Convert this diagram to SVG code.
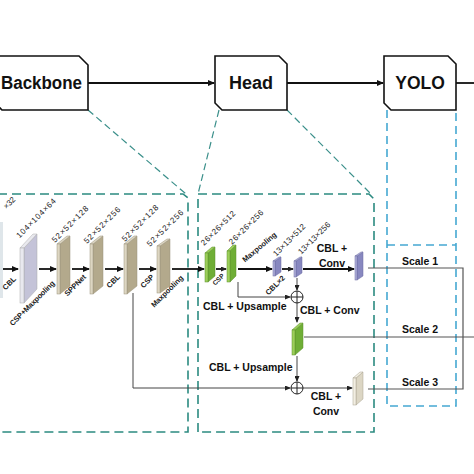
<svg xmlns="http://www.w3.org/2000/svg" width="474" height="474" viewBox="0 0 474 474">
<defs>
<marker id="ah" markerWidth="7" markerHeight="6" refX="6" refY="3" orient="auto" markerUnits="userSpaceOnUse">
<path d="M0,0 L7,3 L0,6 Z" fill="#111"/>
</marker>
<marker id="ahs" markerWidth="6" markerHeight="5" refX="5" refY="2.5" orient="auto" markerUnits="userSpaceOnUse">
<path d="M0,0 L6,2.5 L0,5 Z" fill="#222"/>
</marker>
<style>
.box{fill:#fff;stroke:#111;stroke-width:1.6}
.title{font-family:"Liberation Sans",Arial,sans-serif;font-weight:bold;font-size:18px;fill:#111;text-anchor:middle}
.lbl{font-family:"Liberation Sans",Arial,sans-serif;font-weight:bold;font-size:10.5px;fill:#111}
.sm{font-family:"Liberation Sans",Arial,sans-serif;font-size:8px;fill:#222;text-anchor:middle}
.smb{font-family:"Liberation Sans",Arial,sans-serif;font-size:7.5px;font-weight:bold;fill:#222;text-anchor:middle}
.main{stroke:#111;stroke-width:1.8;fill:none}
.thin{stroke:#444;stroke-width:1;fill:none}
.scl{stroke:#555;stroke-width:1.2;fill:none}
.teal{stroke:#2b8a80;stroke-width:1.6;fill:none;stroke-dasharray:9 5}
.tealdiag{stroke:#3a8f8a;stroke-width:1.2;fill:none;stroke-dasharray:7 4}
.blue{stroke:#45a8d2;stroke-width:1.6;fill:none;stroke-dasharray:8 5}
.g1{fill:#e9e9ef;stroke:#aaa;stroke-width:0.5}
.g2{fill:#c4c3d8;stroke:#aaa;stroke-width:0.5}
.t1{fill:#ddd6c2;stroke:#9a927c;stroke-width:0.5}
.t2{fill:#b3a98c;stroke:#9a927c;stroke-width:0.5}
.gr1{fill:#9ccf5a;stroke:#5c8f2e;stroke-width:0.5}
.gr2{fill:#6fae36;stroke:#5c8f2e;stroke-width:0.5}
.p1{fill:#b3b3dc;stroke:#6a6aa0;stroke-width:0.5}
.p2{fill:#8888c0;stroke:#6a6aa0;stroke-width:0.5}
.b1{fill:#f2eee2;stroke:#a8a290;stroke-width:0.5}
.b2{fill:#dcd6c4;stroke:#a8a290;stroke-width:0.5}
</style>
</defs>
<rect width="474" height="474" fill="#fff"/>

<!-- dashed regions -->
<g id="regions">
<path class="teal" d="M-2,194 H183 L188,198 V432 H-2"/>
<path class="teal" d="M198,432 V194 H369 L374,199 V432 Z"/>
<path class="tealdiag" d="M88,110 L186,194"/>
<path class="tealdiag" d="M219,110 L198,194"/>
<path class="tealdiag" d="M287,110 L371,194"/>
<path class="blue" d="M387,110 V406 H456 V110"/>
<path class="blue" d="M387,245 H456"/>
</g>

<!-- top nodes -->
<g id="backbone">
<path class="box" d="M-6,56 H79 L88,65 V110 H2 L-6,102 Z"/>
<text class="title" x="1" y="89" style="text-anchor:start;font-size:17.5px" textLength="81" lengthAdjust="spacingAndGlyphs">Backbone</text>
</g>
<g id="head">
<path class="box" d="M215,56 H279 L287,64 V110 H222 L215,103 Z"/>
<text class="title" x="251" y="89">Head</text>
</g>
<g id="yolo">
<path class="box" d="M384,56 H448 L456,64 V110 H391 L384,103 Z"/>
<text class="title" x="420" y="89" style="font-size:17.5px">YOLO</text>
</g>

<!-- connectors -->
<g id="connectors">
<path class="main" d="M88,83 H214" marker-end="url(#ah)"/>
<path class="main" d="M287,83 H383" marker-end="url(#ah)"/>
<path class="main" d="M456,83 H474"/>

<path class="main" d="M0,269 H18" marker-end="url(#ah)"/>
<path class="main" d="M39,269 H56" marker-end="url(#ah)"/>
<path class="main" d="M72,269 H89" marker-end="url(#ah)"/>
<path class="main" d="M105,269 H123" marker-end="url(#ah)"/>
<path class="main" d="M139,269 H156" marker-end="url(#ah)"/>
<path class="main" d="M172,269 H204" marker-end="url(#ah)"/>
<path class="main" d="M216,269 H226" marker-end="url(#ahs)"/>
<path class="main" d="M238,269 H272" marker-end="url(#ah)"/>
<path class="main" d="M282,269 H293" marker-end="url(#ahs)"/>
<path class="main" d="M303,269 H354" marker-end="url(#ah)"/>

<path class="thin" d="M297,278 V290" marker-end="url(#ahs)"/>
<path class="thin" d="M238,282 V297 H290" marker-end="url(#ahs)"/>
<path class="thin" d="M297,303 V322" marker-end="url(#ahs)"/>
<path class="thin" d="M297,356 V381" marker-end="url(#ahs)"/>
<path class="thin" d="M133,293 V388 H290" marker-end="url(#ahs)"/>
<path class="thin" d="M303,388 H352" marker-end="url(#ahs)"/>

<path class="scl" d="M368,268 H463 V389 H368"/>
<path class="scl" d="M304,337 H474"/>

<circle cx="297" cy="297" r="6" fill="#fff" stroke="#222" stroke-width="1"/>
<path d="M291,297 H303 M297,291 V303" stroke="#222" stroke-width="1"/>
<circle cx="297" cy="388" r="6" fill="#fff" stroke="#222" stroke-width="1"/>
<path d="M291,388 H303 M297,382 V394" stroke="#222" stroke-width="1"/>
</g>

<!-- feature blocks -->
<g id="blk0"><rect x="0" y="222" width="3" height="76" fill="#dfe6ea"/></g>
<g id="blk1">
<polygon class="g2" points="24,248 37,234 37,289 24,303"/>
<polygon class="g1" points="20,248 33,234 37,234 24,248"/>
<rect class="g1" x="20" y="248" width="4" height="55"/>
</g>
<g id="blk2">
<polygon class="t2" points="60,244 70,236 70,286 60,294"/>
<polygon class="t1" points="57,244 67,236 70,236 60,244"/>
<rect class="t1" x="57" y="244" width="3" height="50"/>
</g>
<g id="blk3">
<polygon class="t2" points="93,244 103,236 103,286 93,294"/>
<polygon class="t1" points="90,244 100,236 103,236 93,244"/>
<rect class="t1" x="90" y="244" width="3" height="50"/>
</g>
<g id="blk4">
<polygon class="t2" points="127,244 137,236 137,286 127,294"/>
<polygon class="t1" points="124,244 134,236 137,236 127,244"/>
<rect class="t1" x="124" y="244" width="3" height="50"/>
</g>
<g id="blk5">
<polygon class="t2" points="160,246 170,239 170,286 160,293"/>
<polygon class="t1" points="157,246 167,239 170,239 160,246"/>
<rect class="t1" x="157" y="246" width="3" height="47"/>
</g>
<g id="green1">
<polygon class="gr2" points="208,253 215,247 215,276 208,282"/>
<polygon class="gr1" points="205,253 212,247 215,247 208,253"/>
<rect class="gr1" x="205" y="253" width="3" height="29"/>
</g>
<g id="green2">
<polygon class="gr2" points="230,251 236,245 236,276 230,282"/>
<polygon class="gr1" points="227,251 233,245 236,245 230,251"/>
<rect class="gr1" x="227" y="251" width="3" height="31"/>
</g>
<g id="purple1">
<polygon class="p2" points="275,261 281,257 281,272 275,276"/>
<polygon class="p1" points="273,261 279,257 281,257 275,261"/>
<rect class="p1" x="273" y="261" width="2" height="15"/>
</g>
<g id="purple2">
<polygon class="p2" points="296,261 302,257 302,273 296,277"/>
<polygon class="p1" points="294,261 300,257 302,257 296,261"/>
<rect class="p1" x="294" y="261" width="2" height="16"/>
</g>
<g id="purple3">
<polygon class="p2" points="357,256 363,252 363,276 357,280"/>
<polygon class="p1" points="355,256 361,252 363,252 357,256"/>
<rect class="p1" x="355" y="256" width="2" height="24"/>
</g>
<g id="green3">
<polygon class="gr2" points="295,330 303,323 303,348 295,355"/>
<polygon class="gr1" points="292,330 300,323 303,323 295,330"/>
<rect class="gr1" x="292" y="330" width="3" height="25"/>
</g>
<g id="beige4">
<polygon class="b2" points="356,378 363,372 363,399 356,405"/>
<polygon class="b1" points="353,378 360,372 363,372 356,378"/>
<rect class="b1" x="353" y="378" width="3" height="27"/>
</g>

<!-- small rotated labels -->
<g id="dimlabels">
<text class="sm" style="text-anchor:end" transform="translate(16,200) rotate(-45)">×32</text>
<text class="sm" transform="translate(38,220) rotate(-45)" textLength="52">104×104×64</text>
<text class="sm" transform="translate(72,226) rotate(-45)" textLength="48">52×52×128</text>
<text class="sm" transform="translate(104,227) rotate(-45)" textLength="48">52×52×256</text>
<text class="sm" transform="translate(142,225) rotate(-45)" textLength="48">52×52×128</text>
<text class="sm" transform="translate(167,230) rotate(-45)" textLength="48">52×52×256</text>
<text class="sm" transform="translate(220,230) rotate(-45)" textLength="45">26×26×512</text>
<text class="sm" transform="translate(248,229) rotate(-45)" textLength="45">26×26×256</text>
<text class="sm" transform="translate(291,242) rotate(-45)" textLength="42">13×13×512</text>
<text class="sm" transform="translate(316,240) rotate(-45)" textLength="42">13×13×256</text>

<text class="smb" transform="translate(11,285) rotate(-45)">CBL</text>
<text class="smb" transform="translate(34,305) rotate(-45)" textLength="60">CSP+Maxpooling</text>
<text class="smb" transform="translate(77,287) rotate(-45)">SPPNet</text>
<text class="smb" transform="translate(115,283) rotate(-45)">CBL</text>
<text class="smb" transform="translate(149,283) rotate(-45)">CSP</text>
<text class="smb" transform="translate(169,293) rotate(-45)" textLength="42">Maxpooling</text>
<text class="smb" transform="translate(220,281) rotate(-45)" style="font-size:6.5px">CSP</text>
<text class="smb" transform="translate(261,249) rotate(-40)" textLength="42">Maxpooling</text>
<text class="smb" transform="translate(277,287) rotate(-45)">CBL×2</text>
</g>

<!-- bold labels -->
<g id="oplabels">
<text class="lbl" x="332" y="252" text-anchor="middle">CBL +</text>
<text class="lbl" x="332" y="267" text-anchor="middle">Conv</text>
<text class="lbl" x="203" y="310">CBL + Upsample</text>
<text class="lbl" x="300" y="314">CBL + Conv</text>
<text class="lbl" x="209" y="371">CBL + Upsample</text>
<text class="lbl" x="326" y="400" text-anchor="middle">CBL +</text>
<text class="lbl" x="326" y="415" text-anchor="middle">Conv</text>
<text class="lbl" x="420" y="265" text-anchor="middle">Scale 1</text>
<text class="lbl" x="420" y="333" text-anchor="middle">Scale 2</text>
<text class="lbl" x="420" y="386" text-anchor="middle">Scale 3</text>
</g>
</svg>
